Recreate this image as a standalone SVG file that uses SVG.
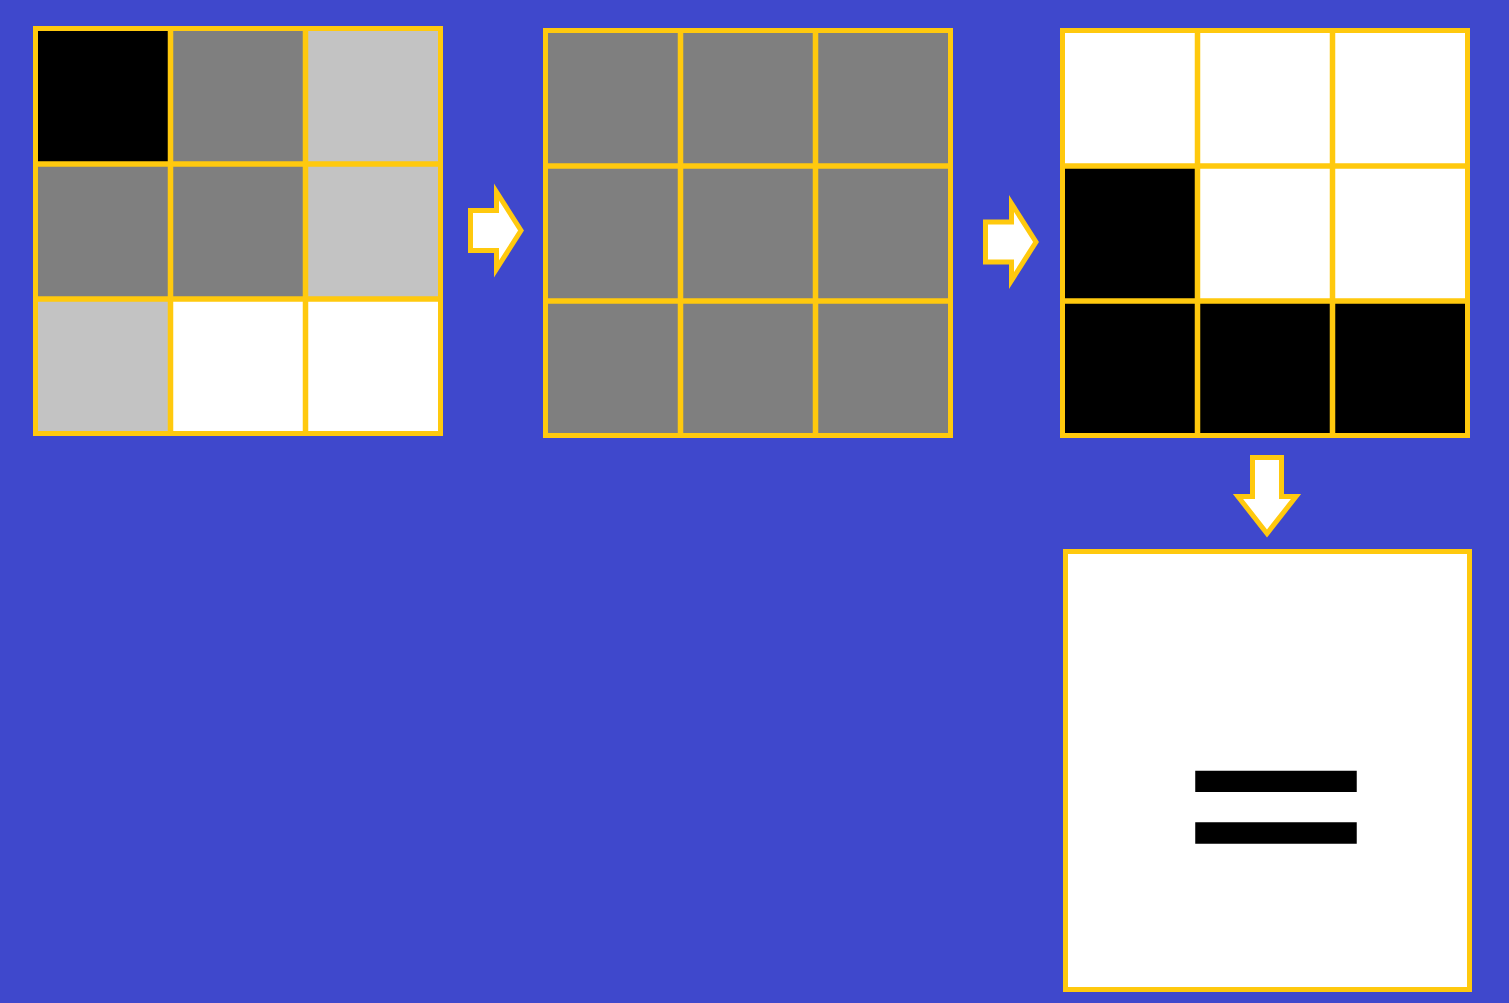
<svg xmlns="http://www.w3.org/2000/svg" width="1509" height="1003" viewBox="0 0 1509 1003">
<style>
.bg{fill:#3F48CC}
.k{fill:#000000}.g{fill:#7F7F7F}.l{fill:#C3C3C3}.w{fill:#FFFFFF}
.frame{fill:none;stroke:#FFC90E;stroke-width:5}
.div{stroke:#FFC90E;stroke-width:5.5}
.arrow{fill:#FFFFFF;stroke:#FFC90E;stroke-width:5;stroke-linejoin:miter;stroke-miterlimit:10}
.eq{font-family:"DejaVu Sans",sans-serif;font-size:258px;fill:#000000}
</style>
<rect class="bg" x="0" y="0" width="1509" height="1003"/>
<g id="grid-input">
<rect class="k" x="35.5" y="28.5" width="135" height="135.5"/>
<rect class="g" x="170.5" y="28.5" width="135" height="135.5"/>
<rect class="l" x="305.5" y="28.5" width="135" height="135.5"/>
<rect class="g" x="35.5" y="164" width="135" height="135"/>
<rect class="g" x="170.5" y="164" width="135" height="135"/>
<rect class="l" x="305.5" y="164" width="135" height="135"/>
<rect class="l" x="35.5" y="299" width="135" height="134.5"/>
<rect class="w" x="170.5" y="299" width="135" height="134.5"/>
<rect class="w" x="305.5" y="299" width="135" height="134.5"/>
<path class="div" d="M170.5,28.5V433.5M305.5,28.5V433.5M35.5,164H440.5M35.5,299H440.5"/>
<rect class="frame" x="35.5" y="28.5" width="405" height="405"/>
</g>
<g id="grid-mean">
<rect class="g" x="545.5" y="30.5" width="405" height="405"/>
<path class="div" d="M680.5,30.5V435.5M815.5,30.5V435.5M545.5,166H950.5M545.5,301H950.5"/>
<rect class="frame" x="545.5" y="30.5" width="405" height="405"/>
</g>
<g id="grid-binary">
<rect class="w" x="1062.5" y="30.5" width="405" height="405"/>
<rect class="k" x="1062.5" y="166" width="135" height="135"/>
<rect class="k" x="1062.5" y="301" width="405" height="134.5"/>
<path class="div" d="M1197.5,30.5V435.5M1332.5,30.5V435.5M1062.5,166H1467.5M1062.5,301H1467.5"/>
<rect class="frame" x="1062.5" y="30.5" width="405" height="405"/>
</g>
<g id="result">
<rect class="w" x="1065.5" y="551.5" width="404" height="438"/>
<rect class="frame" x="1065.5" y="551.5" width="404" height="438"/>
<text class="eq" x="1276" y="888" text-anchor="middle">=</text>
</g>
<g id="connectors">
<path class="arrow" d="M470.5,210.5H496.5V192L521,230.5L496.5,269V250.5H470.5Z"/>
<path class="arrow" d="M985.5,222H1011.5V203.5L1036,242L1011.5,280.5V262H985.5Z"/>
<path class="arrow" d="M1252.5,457.5H1281.5V496.5H1296L1267,533.5L1238,496.5H1252.5Z"/>
</g>
</svg>
